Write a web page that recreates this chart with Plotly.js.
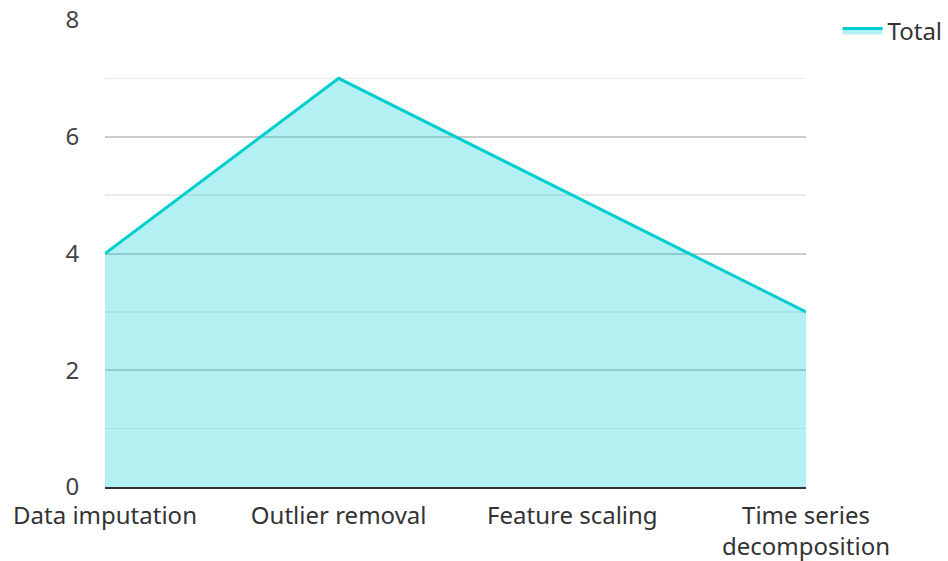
<!DOCTYPE html>
<html>
<head>
<meta charset="utf-8">
<script src="https://cdn.plot.ly/plotly-3.0.1.min.js"></script>
<style>html,body{margin:0;padding:0;background:#fff;}#chart{width:948px;height:561px;}</style>
</head>
<body>
<div id="chart"></div>
<script>
const categories = ["Data imputation", "Outlier removal", "Feature scaling", "Time series<br>decomposition"];
const totalValues = [4, 7, 5, 3];
const seriesName = "Total";

const trace = {
  x: categories,
  y: totalValues,
  name: seriesName,
  type: "scatter",
  mode: "lines",
  fill: "tozeroy",
  fillcolor: "rgba(0,206,209,0.3)",
  line: {color: "#00CED1", width: 3}
};

const layout = {
  width: 948, height: 561,
  margin: {l: 105, r: 142, t: 20, b: 74, autoexpand: false},
  paper_bgcolor: "#fff", plot_bgcolor: "#fff",
  font: {family: "Noto Sans, sans-serif", size: 24, color: "#444"},
  showlegend: true,
  legend: {x: 1.045, y: 1.025, xanchor: "left", yanchor: "top", font: {size: 24, color: "#333"}, bgcolor: "rgba(0,0,0,0)", itemwidth: 40},
  xaxis: {
    type: "category",
    range: [0, 3],
    showgrid: false,
    showline: true, linecolor: "#333", linewidth: 2,
    ticks: "outside", ticklen: 6, tickcolor: "rgba(0,0,0,0)",
    tickfont: {size: 24, color: "#333"},
    fixedrange: true
  },
  yaxis: {
    range: [0, 8],
    tickvals: [0, 2, 4, 6, 8],
    showgrid: true, gridcolor: "#cccccc", gridwidth: 2,
    minor: {tickvals: [1, 3, 5, 7], showgrid: true, gridcolor: "#eaeaea", gridwidth: 1.5},
    zeroline: false,
    showline: false,
    ticks: "outside", ticklen: 0,
    ticklabelstandoff: 20,
    tickfont: {size: 24, color: "#444"},
    fixedrange: true
  }
};

Plotly.newPlot("chart", [trace], layout, {displayModeBar: false, staticPlot: true});
</script>
</body>
</html>
